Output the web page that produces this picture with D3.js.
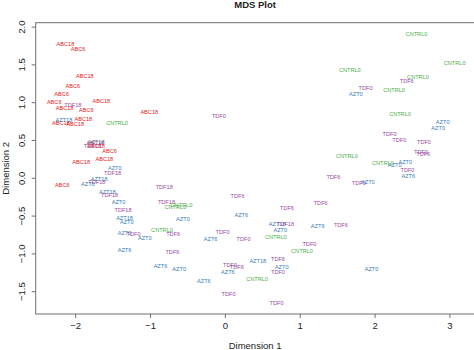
<!DOCTYPE html>
<html>
<head>
<meta charset="utf-8">
<script src="https://cdn.jsdelivr.net/npm/d3@7"></script>
<style>
  html, body { margin: 0; padding: 0; background: #fff; }
  svg { display: block; font-family: "Liberation Sans", Arial, sans-serif; }
</style>
</head>
<body>
<svg id="chart" width="474" height="350"></svg>
<script>
// ---- data ----
const sampleLabels = [
  // ABC
  "ABC18","ABC6","ABC18","ABC6","ABC6","ABC6","ABC18","ABC18","ABC6","ABC18",
  "ABC18","ABC18","ABC18","ABC18","ABC18","ABC6","ABC18","ABC18","ABC6",
  // AZT
  "AZT18","AZT18","AZT0","AZT18","AZT0","AZT18","AZT0","AZT18","AZT0","AZT0",
  "AZT0","AZT6","AZT0","AZT6","AZT6","AZT6","AZT0","AZT6","AZT18","AZT0",
  "AZT6","AZT18","AZT0","AZT0","AZT0","AZT0","AZT0","AZT0","AZT6","AZT0",
  "AZT6","AZT0",
  // TDF
  "TDF18","TDF18","TDF18","TDF18","TDF18","TDF18","TDF0","TDF0","TDF18","TDF6",
  "TDF18","TDF6","TDF18","TDF6","TDF0","TDF0","TDF6","TDF0","TDF6","TDF6",
  "TDF0","TDF0","TDF0","TDF0","TDF6","TDF6","TDF6","TDF0","TDF0","TDF0",
  "TDF6","TDF0","TDF0","TDF0","TDF0","TDF6",
  // CNTRL
  "CNTRL0","CNTRL0","CNTRL0","CNTRL0","CNTRL0","CNTRL0","CNTRL0","CNTRL0","CNTRL0","CNTRL0",
  "CNTRL0","CNTRL0","CNTRL0","CNTRL0","CNTRL0"
];
const dim1 = [
  -2.13,-1.96,-1.87,-2.03,-2.18,-2.28,-2.14,-1.65,-1.85,-1.01,
  -2.19,-1.89,-2.00,-1.73,-1.72,-1.54,-1.61,-1.92,-2.17,
  -2.15,-1.72,-1.47,-1.68,-1.83,-1.57,-1.42,-1.34,-1.31,-1.34,
  -1.07,-1.34,-0.56,0.22,-0.19,-0.86,-0.61,0.04,0.44,0.76,
  -0.28,0.70,0.74,1.75,2.91,2.85,2.41,2.27,2.45,1.91,
  1.24,1.96,
  -2.03,-1.77,-1.50,-1.71,-1.54,-1.36,-1.22,-0.08,-0.81,0.17,
  -0.78,0.83,0.81,-0.69,-0.03,0.25,-0.70,0.07,0.16,0.71,
  0.71,0.05,0.69,1.13,1.55,1.28,1.45,1.79,2.44,2.62,
  2.65,2.66,2.33,2.20,1.88,2.43,
  -1.44,-0.58,-0.66,-0.84,0.68,0.43,1.03,1.63,2.11,2.34,
  2.26,2.58,1.67,3.07,2.56
];
const dim2 = [
  1.77,1.71,1.35,1.22,1.11,1.01,0.93,1.02,0.90,0.88,
  0.73,0.78,0.72,0.47,0.43,0.36,0.26,0.21,-0.09,
  0.77,0.48,0.13,-0.01,-0.07,-0.18,-0.31,-0.53,-0.58,-0.72,
  -0.79,-0.95,-0.54,-0.49,-0.80,-1.16,-1.20,-1.24,-1.10,-1.18,
  -1.36,-0.61,-0.69,1.11,0.75,0.66,0.22,0.17,0.03,-0.05,
  -0.63,-1.20,
  0.97,0.43,0.07,-0.05,-0.22,-0.42,-0.74,0.82,-0.11,-0.23,
  -0.31,-0.39,-0.60,-0.74,-0.71,-0.80,-0.98,-1.15,-1.18,-1.07,
  -1.24,-1.53,-1.65,-0.87,-0.62,-0.33,0.02,-0.06,0.11,0.35,
  0.32,0.48,0.51,0.59,1.19,1.28,
  0.73,-0.35,-0.38,-0.69,-0.78,-1.33,-0.96,0.29,0.20,0.85,
  1.17,1.34,1.43,1.53,1.91
];
const groups = ["ABC","AZT","TDF","CNTRL"];
const groupColors = ["#E41A1C","#377EB8","#984EA3","#4DAF4A"];
const xTicks = [-2,-1,0,1,2,3];
const yTicks = [-1.5,-1.0,-0.5,0.0,0.5,1.0,1.5,2.0];
const titleText = "MDS Plot";
const xLabel = "Dimension 1";
const yLabel = "Dimension 2";

// ---- layout ----
const svg = d3.select("#chart");
const pLeft = 35.7, pRight = 474.5, pTop = 22.7, pBottom = 314;
const x = d3.scaleLinear().domain([-2.527, 3.335]).range([pLeft, pRight]);
const y = d3.scaleLinear().domain([-1.795, 2.058]).range([pBottom, pTop]);
const color = d3.scaleOrdinal().domain(groups).range(groupColors);
const groupOf = s => s.replace(/[0-9]+$/, "");

const axisColor = "#6e6e6e";
const fontFam = "Liberation Sans, Arial, sans-serif";

// box
svg.append("rect")
  .attr("x", pLeft).attr("y", pTop)
  .attr("width", pRight - pLeft).attr("height", pBottom - pTop)
  .attr("fill", "none").attr("stroke", axisColor).attr("stroke-width", 1);

// x axis
const xAxis = svg.append("g").attr("transform", `translate(0,${pBottom})`)
  .call(d3.axisBottom(x).tickValues(xTicks).tickSize(4).tickPadding(4).tickFormat(d3.format("d")));
xAxis.select(".domain").remove();
xAxis.selectAll("line").attr("stroke", axisColor);
xAxis.selectAll("text").attr("font-size", 9.5).attr("fill", "#222").attr("font-family", fontFam);

// y axis
const yAxis = svg.append("g").attr("transform", `translate(${pLeft},0)`)
  .call(d3.axisLeft(y).tickValues(yTicks).tickSize(4).tickFormat(d3.format(".1f")));
yAxis.select(".domain").remove();
yAxis.selectAll("line").attr("stroke", axisColor);
yAxis.selectAll(".tick").attr("transform", null);
yAxis.selectAll(".tick line").attr("y1", d => y(d)).attr("y2", d => y(d));
yAxis.selectAll(".tick text")
  .attr("font-size", 9.5).attr("fill", "#222").attr("font-family", fontFam)
  .attr("text-anchor", "middle")
  .attr("x", 0).attr("y", 0).attr("dy", "0.35em")
  .attr("transform", d => `translate(${21.7 - pLeft},${y(d)}) rotate(-90)`);

// labels
svg.append("g").selectAll("text")
  .data(sampleLabels.map((s, i) => ({s, a: dim1[i], b: dim2[i]})))
  .join("text")
  .attr("x", d => x(d.a))
  .attr("y", d => y(d.b))
  .attr("dy", "0.35em")
  .attr("text-anchor", "middle")
  .attr("font-size", 5.6)
  .attr("fill", d => color(groupOf(d.s)))
  .text(d => d.s);

// title
svg.append("text")
  .attr("x", (pLeft + pRight) / 2).attr("y", 8)
  .attr("text-anchor", "middle")
  .attr("font-size", 9.5).attr("font-weight", "bold").attr("fill", "#222")
  .text(titleText);

// axis titles
svg.append("text")
  .attr("x", (pLeft + pRight) / 2).attr("y", 349)
  .attr("text-anchor", "middle")
  .attr("font-size", 9.5).attr("fill", "#222")
  .text(xLabel);

svg.append("text")
  .attr("transform", `translate(8.5,${(pTop + pBottom) / 2}) rotate(-90)`)
  .attr("text-anchor", "middle")
  .attr("font-size", 9.5).attr("fill", "#222")
  .text(yLabel);
</script>
</body>
</html>
